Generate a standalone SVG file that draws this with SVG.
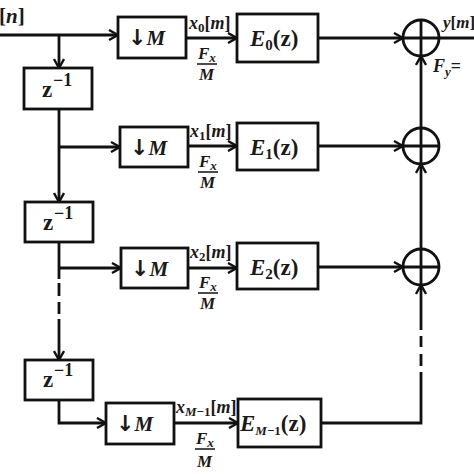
<svg xmlns="http://www.w3.org/2000/svg" width="474" height="474" viewBox="0 0 474 474">
<defs>
<style>
.b{fill:#fff;stroke:#111;stroke-width:2.8}
.c{fill:none;stroke:#111;stroke-width:2.8}
.w{fill:none;stroke:#111;stroke-width:2.8}
.fl{fill:none;stroke:#111;stroke-width:1.5}
text{font-family:"Liberation Serif","DejaVu Serif",serif;font-weight:bold;fill:#1a1a1a}
.i{font-style:italic}
.ar{font-family:"DejaVu Sans",sans-serif;font-style:normal;font-size:22px}
.big{font-size:23px}
.med{font-size:21px}
.lab{font-size:18px}
.fr{font-size:17px}
.sub{font-size:13px}
.es{font-size:15px}
</style>
<marker id="ah" viewBox="0 0 12 12" refX="11" refY="6" markerWidth="12" markerHeight="12" markerUnits="userSpaceOnUse" orient="auto">
<path d="M2,1 L11,6 L2,11" fill="none" stroke="#111" stroke-width="2.4"/>
</marker>
</defs>
<rect width="474" height="474" fill="#fff"/>

<g id="connectors">
<path class="w" d="M0,35 H118" marker-end="url(#ah)"/>
<path class="w" d="M59,35 V68" marker-end="url(#ah)"/>
<path class="w" d="M186,38 H237" marker-end="url(#ah)"/>
<path class="w" d="M318,38 H403" marker-end="url(#ah)"/>
<path class="w" d="M439,38 H474"/>
<path class="w" d="M59,109 V202" marker-end="url(#ah)"/>
<path class="w" d="M59,147 H120" marker-end="url(#ah)"/>
<path class="w" d="M188,146 H237" marker-end="url(#ah)"/>
<path class="w" d="M318,146 H403" marker-end="url(#ah)"/>
<path class="w" d="M421,128 V56" marker-end="url(#ah)"/>
<path class="w" d="M59,242 V279"/>
<path class="w" d="M59,283 V296 M59,302 V314"/>
<path class="w" d="M59,319 V360" marker-end="url(#ah)"/>
<path class="w" d="M59,268 H121" marker-end="url(#ah)"/>
<path class="w" d="M188,268 H237" marker-end="url(#ah)"/>
<path class="w" d="M318,267 H403" marker-end="url(#ah)"/>
<path class="w" d="M421,249 V164" marker-end="url(#ah)"/>
<path class="w" d="M59,400 V423 H106" marker-end="url(#ah)"/>
<path class="w" d="M174,423 H238" marker-end="url(#ah)"/>
<path class="w" d="M321,423 H421 V372"/>
<path class="w" d="M421,366 V354 M421,347 V336"/>
<path class="w" d="M421,330 V285" marker-end="url(#ah)"/>
</g>

<g id="input-label">
<text x="-1" y="23" style="font-size:21px">[<tspan class="i">n</tspan>]</text>
</g>

<g id="down1">
<rect class="b" x="118" y="17" width="68" height="41"/>
<text class="med" x="128" y="45"><tspan class="ar">↓</tspan><tspan class="i">M</tspan></text>
</g>
<g id="down2">
<rect class="b" x="120" y="127" width="68" height="40"/>
<text class="med" x="130" y="155"><tspan class="ar">↓</tspan><tspan class="i">M</tspan></text>
</g>
<g id="down3">
<rect class="b" x="121" y="248" width="67" height="40"/>
<text class="med" x="131" y="276"><tspan class="ar">↓</tspan><tspan class="i">M</tspan></text>
</g>
<g id="down4">
<rect class="b" x="106" y="403" width="68" height="41"/>
<text class="med" x="116" y="431"><tspan class="ar">↓</tspan><tspan class="i">M</tspan></text>
</g>

<g id="delay1">
<rect class="b" x="24" y="68" width="68" height="41"/>
<text class="big" x="42" y="97">z</text><text class="lab" x="53" y="86">−1</text>
</g>
<g id="delay2">
<rect class="b" x="25" y="202" width="68" height="40"/>
<text class="big" x="43" y="230">z</text><text class="lab" x="54" y="219">−1</text>
</g>
<g id="delay3">
<rect class="b" x="25" y="360" width="68" height="40"/>
<text class="big" x="43" y="387">z</text><text class="lab" x="54" y="376">−1</text>
</g>

<g id="E0">
<rect class="b" x="237" y="14" width="81" height="48"/>
<text class="big" x="250" y="46"><tspan class="i">E</tspan><tspan class="es" dy="4">0</tspan><tspan dy="-4">(z)</tspan></text>
</g>
<g id="E1">
<rect class="b" x="237" y="123" width="81" height="47"/>
<text class="big" x="250" y="155"><tspan class="i">E</tspan><tspan class="es" dy="4">1</tspan><tspan dy="-4">(z)</tspan></text>
</g>
<g id="E2">
<rect class="b" x="237" y="243" width="81" height="46"/>
<text class="big" x="250" y="275"><tspan class="i">E</tspan><tspan class="es" dy="4">2</tspan><tspan dy="-4">(z)</tspan></text>
</g>
<g id="EM1">
<rect class="b" x="238" y="399" width="83" height="48"/>
<text class="big" x="240" y="431"><tspan class="i">E</tspan><tspan class="sub" dy="4"><tspan class="i">M</tspan>−1</tspan><tspan dy="-4">(z)</tspan></text>
</g>

<g id="sum1">
<circle class="c" cx="421" cy="38" r="18"/>
<path class="w" d="M403,38 H439 M421,20 V56"/>
</g>
<g id="sum2">
<circle class="c" cx="421" cy="146" r="18"/>
<path class="w" d="M403,146 H439 M421,128 V164"/>
</g>
<g id="sum3">
<circle class="c" cx="421" cy="267" r="18"/>
<path class="w" d="M403,267 H439 M421,249 V285"/>
</g>

<g id="labels">
<text class="lab" x="189" y="29"><tspan class="i">x</tspan><tspan class="sub" dy="3">0</tspan><tspan dy="-3">[</tspan><tspan class="i">m</tspan>]</text>
<text class="lab" x="190" y="137"><tspan class="i">x</tspan><tspan class="sub" dy="3">1</tspan><tspan dy="-3">[</tspan><tspan class="i">m</tspan>]</text>
<text class="lab" x="190" y="258"><tspan class="i">x</tspan><tspan class="sub" dy="3">2</tspan><tspan dy="-3">[</tspan><tspan class="i">m</tspan>]</text>
<text class="lab" x="176" y="413"><tspan class="i">x</tspan><tspan class="sub" dy="3"><tspan class="i">M</tspan>−1</tspan><tspan dy="-3">[</tspan><tspan class="i">m</tspan>]</text>

<text class="fr i" x="198" y="59">F<tspan class="sub" dy="3">x</tspan></text>
<path class="fl" d="M197,64 H217"/>
<text class="fr i" x="199" y="80">M</text>

<text class="fr i" x="199" y="167">F<tspan class="sub" dy="3">x</tspan></text>
<path class="fl" d="M198,172 H218"/>
<text class="fr i" x="200" y="188">M</text>

<text class="fr i" x="199" y="288">F<tspan class="sub" dy="3">x</tspan></text>
<path class="fl" d="M198,293 H218"/>
<text class="fr i" x="200" y="309">M</text>

<text class="fr i" x="196" y="444">F<tspan class="sub" dy="3">x</tspan></text>
<path class="fl" d="M195,449 H215"/>
<text class="fr i" x="197" y="467">M</text>

<text x="443" y="28" style="font-size:17px"><tspan class="i">y</tspan>[<tspan class="i">m</tspan>]</text>
<text x="433" y="72" style="font-size:18px"><tspan class="i">F</tspan><tspan class="sub i" dy="4">y</tspan><tspan dy="-4">=</tspan></text>
</g>
</svg>
